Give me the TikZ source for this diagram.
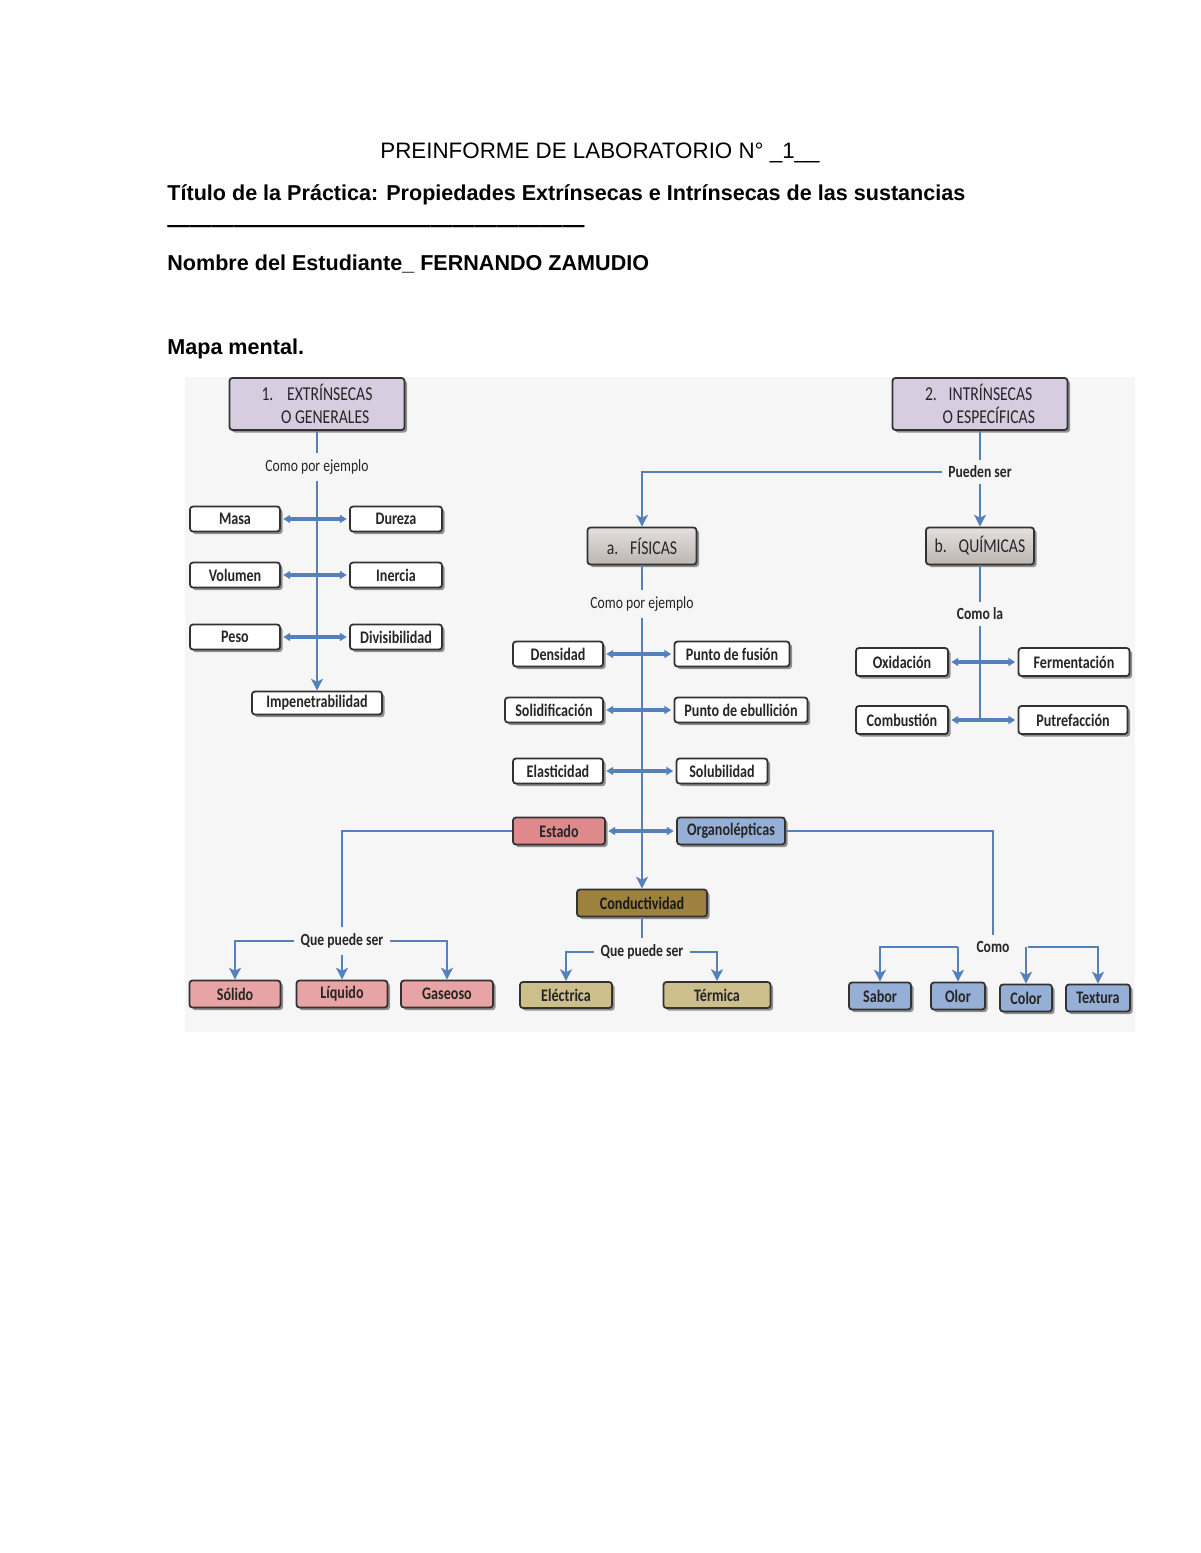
\documentclass[tikz,border=0pt]{standalone}
\usepackage{fontspec}
\setmainfont{Liberation Sans}
\newfontfamily\dfont[FakeStretch=0.8]{Carlito}
\usetikzlibrary{arrows.meta,shadows}
\definecolor{lblue}{RGB}{84,128,188}
\definecolor{bord}{RGB}{50,50,50}
\definecolor{lav}{RGB}{216,204,224}
\definecolor{pinkA}{RGB}{222,138,140}
\definecolor{pinkB}{RGB}{232,164,164}
\definecolor{blueA}{RGB}{150,175,215}
\definecolor{oliveA}{RGB}{156,130,62}
\definecolor{tanA}{RGB}{205,191,140}
\definecolor{grayT}{RGB}{228,224,222}
\definecolor{grayB}{RGB}{188,181,178}
\definecolor{bg}{RGB}{246,246,246}
\begin{document}
\begin{tikzpicture}[x=0.51pt,y=-0.51pt,
  box/.style={draw=bord, line width=0.9pt, rounded corners=1.5pt, fill=white, inner sep=0pt,
    minimum height=25*0.51pt, text=black!85, font=\dfont\bfseries\fontsize{9}{10}\selectfont,
    drop shadow={shadow xshift=1.3pt, shadow yshift=-1.3pt, fill=black!65, opacity=.65}},
  w/.style={minimum width=#1*0.51pt},
  h/.style={minimum height=#1*0.51pt},
  head/.style={box, fill=lav, font=\dfont\fontsize{10}{11.5}\selectfont, align=left},
  gbox/.style={box, top color=grayT, bottom color=grayB, font=\dfont\fontsize{10}{11}\selectfont},
  lab/.style={font=\dfont\fontsize{8.7}{9}\selectfont, inner sep=3pt, text=black!85},
  blab/.style={lab, font=\dfont\bfseries\fontsize{8.7}{9}\selectfont},
  ln/.style={draw=lblue, line width=1.3pt},
  arr/.style={ln, -{Stealth[length=6pt,width=6pt,inset=1.5pt]}},
  dbl/.style={ln, line width=1.7pt, {Triangle[length=3.5pt,width=4pt]}-{Triangle[length=3.5pt,width=4pt]}, shorten <=1.2pt, shorten >=1.2pt},
  hdr/.style={inner sep=0pt, anchor=west, font=\bfseries\fontsize{11}{13}\selectfont}
]
\useasboundingbox (0,0) rectangle (1200,1553);
\fill[white] (0,0) rectangle (1200,1553);

% header texts
\node[inner sep=0pt, font=\fontsize{11.4}{13}\selectfont] (t0) at (600,153) {PREINFORME DE LABORATORIO N° \_1\_\_};
\node[hdr] (t1) at (167,195) {Título de la Práctica: Propiedades Extrínsecas e Intrínsecas de las sustancias};
\node[hdr, font=\bfseries\fontsize{11.2}{13}\selectfont] (t2) at (167,229) {———————————————————};
\node[hdr] (t3) at (167,264) {Nombre del Estudiante\_ FERNANDO ZAMUDIO};
\node[hdr] (t4) at (167,349) {Mapa mental.};

% diagram background
\fill[bg] (185,377) rectangle (1135,1032);

% top boxes
\node[head, w=175, h=52] (ext) at (317,404) {1.\hspace{0.7em}EXTRÍNSECAS\\\hspace{1.0em}O GENERALES};
\node[head, w=175, h=52] (intr) at (980,404) {2.\hspace{0.6em}INTRÍNSECAS\\\hspace{0.9em}O ESPECÍFICAS};

% left branch
\node[lab] (lab1) at (317,467) {Como por ejemplo};
\node[box, w=90] (masa) at (235,519) {Masa};
\node[box, w=92] (dureza) at (396,519) {Dureza};
\node[box, w=90] (volumen) at (235,575) {Volumen};
\node[box, w=92] (inercia) at (396,575) {Inercia};
\node[box, w=90] (peso) at (235,637) {Peso};
\node[box, w=92] (divis) at (396,637) {Divisibilidad};
\node[box, w=130, h=23] (imp) at (317,703) {Impenetrabilidad};

% intrinsic branch
\node[blab] (pueden) at (980,472) {Pueden ser};
\node[gbox, w=109, h=37] (fis) at (642,546) {a.\hspace{0.6em}FÍSICAS};
\node[gbox, w=108, h=37] (quim) at (980,546) {b.\hspace{0.6em}QUÍMICAS};

% physical
\node[lab] (lab2) at (642,604) {Como por ejemplo};
\node[box, w=90] (dens) at (558,654) {Densidad};
\node[box, w=115] (pfus) at (732,654) {Punto de fusión};
\node[box, w=98] (solid) at (554,710) {Solidificación};
\node[box, w=133] (pebu) at (741,710) {Punto de ebullición};
\node[box, w=90] (elas) at (558,771) {Elasticidad};
\node[box, w=91] (solu) at (722,771) {Solubilidad};
\node[box, w=92, h=27, fill=pinkA] (estado) at (559,831) {Estado};
\node[box, w=108, h=27, fill=blueA] (org) at (731,831) {Organolépticas};
\node[box, w=130, h=27, fill=oliveA, text=black!90] (cond) at (642,903) {Conductividad};

% estado
\node[blab] (que1) at (342,941) {Que puede ser};
\node[box, w=91, h=27, fill=pinkB] (solido) at (235,994) {Sólido};
\node[box, w=91, h=27, fill=pinkB] (liquido) at (342,994) {Líquido};
\node[box, w=92, h=27, fill=pinkB] (gaseoso) at (447,994) {Gaseoso};

% conductividad
\node[blab] (que2) at (642,952) {Que puede ser};
\node[box, w=92, h=26, fill=tanA] (elec) at (566,995) {Eléctrica};
\node[box, w=107, h=26, fill=tanA] (term) at (717,995) {Térmica};

% organolepticas
\node[blab, inner xsep=9pt] (como3) at (993,947) {Como};
\node[box, w=62, h=27, fill=blueA] (sabor) at (880,996) {Sabor};
\node[box, w=54, h=27, fill=blueA] (olor) at (958,996) {Olor};
\node[box, w=52, h=27, fill=blueA] (color) at (1026,998) {Color};
\node[box, w=64, h=27, fill=blueA] (textura) at (1098,998) {Textura};

% chemical
\node[blab] (comola) at (980,614) {Como la};
\node[box, w=92, h=28] (oxi) at (902,662) {Oxidación};
\node[box, w=111, h=28] (ferm) at (1074,662) {Fermentación};
\node[box, w=92, h=28] (comb) at (902,720) {Combustión};
\node[box, w=109, h=28] (putr) at (1073,720) {Putrefacción};

% connectors left
\draw[ln] (ext.south) -- (lab1.north);
\draw[arr] (lab1.south) -- (imp.north);
\draw[dbl] (masa.east) -- (dureza.west);
\draw[dbl] (volumen.east) -- (inercia.west);
\draw[dbl] (peso.east) -- (divis.west);

% connectors intrinsic
\draw[ln] (intr.south) -- (pueden.north);
\draw[arr] (pueden.south) -- (quim.north);
\draw[arr] (pueden.west) -| (fis.north);

% physical
\draw[ln] (fis.south) -- (lab2.north);
\draw[arr] (lab2.south) -- (cond.north);
\draw[dbl] (dens.east) -- (pfus.west);
\draw[dbl] (solid.east) -- (pebu.west);
\draw[dbl] (elas.east) -- (solu.west);
\draw[dbl] (estado.east) -- (org.west);

% estado children
\draw[ln] (estado.west) -| (que1.north);
\draw[arr] (que1.west) -| (solido.north);
\draw[arr] (que1.south) -- (liquido.north);
\draw[arr] (que1.east) -| (gaseoso.north);

% conductividad children
\draw[ln] (cond.south) -- (que2.north);
\draw[arr] (que2.west) -| (elec.north);
\draw[arr] (que2.east) -| (term.north);

% organolepticas children
\draw[ln] (org.east) -| (como3.north);
\draw[arr] (como3.west) -| (sabor.north);
\draw[arr] (olor.north |- como3.west) -- (olor.north);
\draw[arr] (como3.east) -| (textura.north);
\draw[arr] (color.north |- como3.east) -- (color.north);

% chemical
\draw[ln] (quim.south) -- (comola.north);
\draw[ln] (comola.south) -- (comola.south |- comb.east);
\draw[dbl] (oxi.east) -- (ferm.west);
\draw[dbl] (comb.east) -- (putr.west);
\end{tikzpicture}
\end{document}
